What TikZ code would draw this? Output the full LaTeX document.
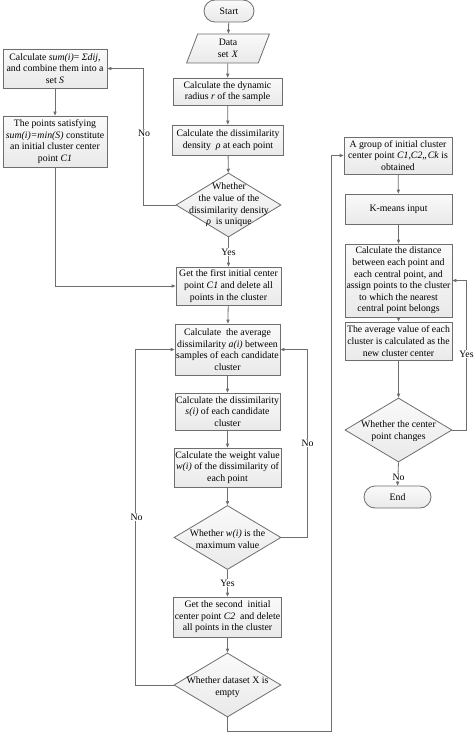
\documentclass[tikz,border=0pt]{standalone}
\usepackage{fontspec}
\setmainfont{Liberation Serif}
\usetikzlibrary{arrows.meta,shapes.geometric,shapes.misc}
\definecolor{ln}{HTML}{6E6E6E}
\tikzset{
  base/.style={draw=ln, line width=0.8pt, top color=gray!4, bottom color=gray!17, align=center, inner sep=1pt,
    font=\fontsize{9.8}{11.6}\selectfont},
  box/.style={base, rectangle, minimum width=#1},
  pill/.style={base, rounded rectangle, minimum height=22pt},
  dec/.style={draw=ln, line width=0.8pt, top color=gray!4, bottom color=gray!17, diamond, inner sep=0pt, minimum width=#1, minimum height=64pt},
  dectext/.style={align=center, inner sep=0pt, font=\fontsize{9.8}{11.6}\selectfont},
  arr/.style={draw=ln, line width=0.8pt, -{Triangle[length=4pt,width=3.2pt]}},
  lab/.style={fill=white, inner sep=1pt, font=\fontsize{9.8}{11.6}\selectfont},
}
\begin{document}
\begin{tikzpicture}[x=1pt,y=-1pt]
\useasboundingbox (0,0) rectangle (474,733);
\fill[white] (0,0) rectangle (474,733);
% main column
\node[pill, minimum width=52pt] (start) at (229,11) {Start};
\node[base, trapezium, trapezium left angle=69, trapezium right angle=111, minimum height=29pt, text width=40pt] (data) at (228,48.5) {Data\\set \textit{X}};
\node[box=109pt, minimum height=27pt] (r1) at (227.5,91.5) {Calculate the dynamic\\radius \textit{r} of the sample};
\node[box=111pt, minimum height=30pt] (r2) at (228,140) {Calculate the dissimilarity\\density \ \textit{ρ} at each point};
\node[dec=105pt] (d1) at (228.5,205) {};
\node[dectext] (d1t) at (229,205) {Whether\\the value of the\\dissimilarity density\\\textit{ρ} \ is unique};
\node[box=104pt, minimum height=39pt] (sum) at (55,68.5) {Calculate \textit{sum(i)}= \textit{Σdij},\\and combine them into a\\set \textit{S}};
\node[box=104pt, minimum height=51pt] (pts) at (55,141.5) {The points satisfying\\\textit{sum(i)=min(S)} constitute\\an initial cluster center\\point \textit{C1}};
\node[box=105pt, minimum height=38pt] (first) at (228.5,286) {Get the first initial center\\point \textit{C1} and delete all\\points in the cluster};
\node[box=105pt, minimum height=51pt] (avg) at (227.5,349.5) {Calculate \ the average\\dissimilarity \textit{a(i)} between\\samples of each candidate\\cluster};
\node[box=105pt, minimum height=37pt] (s) at (227.5,411.5) {Calculate the dissimilarity\\\textit{s(i)} of each candidate\\cluster};
\node[box=107pt, minimum height=39pt] (w) at (227.5,467.5) {Calculate the weight value\\\textit{w(i)} of the dissimilarity of\\each point};
\node[dec=107pt] (d2) at (227.5,537.5) {};
\node[dectext] (d2t) at (227.5,539) {Whether \textit{w(i)} is the\\maximum value};
\node[box=107pt, minimum height=40pt] (second) at (227.5,617) {Get the second \ initial\\center point \textit{C2} \ and delete\\all points in the cluster};
\node[dec=107pt] (d3) at (227.5,685) {};
\node[dectext] (d3t) at (227.5,687) {Whether dataset X is\\empty};
% right column
\node[box=108pt, minimum height=37pt] (grp) at (398,155.5) {A group of initial cluster\\center point \textit{C1,C2,,Ck} is\\obtained};
\node[box=107pt, minimum height=30pt] (km) at (398.5,209) {K-means input};
\node[box=107pt, minimum height=73pt] (dist) at (398.5,280.5) {Calculate the distance\\between each point and\\each central point, and\\assign points to the cluster\\to which the nearest\\central point belongs};
\node[box=107pt, minimum height=38pt] (avgv) at (398.5,341) {The average value of each\\cluster is calculated as the\\new cluster center};
\node[dec=107pt] (d4) at (398.5,430) {};
\node[dectext] (d4t) at (398.5,431) {Whether the center\\point changes};
\node[pill, minimum width=69pt] (end) at (397.5,497) {End};
% connectors
\draw[arr] (start) -- (data);
\draw[arr] (data) -- (r1);
\draw[arr] (r1) -- (r2);
\draw[arr] (r2) -- (d1);
\draw[arr] (d1.south) -- (first.north);
\draw[arr] (d1.west) -- ++(-32,0) |- (sum.east);
\draw[arr] (sum) -- (pts);
\draw[arr] (pts.south) |- (first.west);
\draw[arr] (first) -- (avg);
\draw[arr] (avg) -- (s);
\draw[arr] (s) -- (w);
\draw[arr] (w) -- (d2.north);
\draw[arr] (d2.south) -- (second.north);
\draw[arr] (d2.east) -- ++(26,0) |- (avg.east);
\draw[arr] (second) -- (d3.north);
\draw[arr] (d3.west) -- ++(-38,0) |- (avg.west);
\coordinate (bend) at (331,731);
\draw[arr] (d3.south) |- (bend) |- (grp.west);
\draw[arr] (grp) -- (km);
\draw[arr] (km) -- (dist);
\draw[arr] (dist) -- (avgv);
\draw[arr] (avgv) -- (d4.north);
\draw[arr] (d4.east) -- ++(14,0) |- (dist.east);
\draw[arr] (d4.south) -- (end.north);
% labels
\node[lab] (l1) at (228.5,252) {Yes};
\node[lab] (l2) at (144,133) {No};
\node[lab] (l3) at (307.5,443) {No};
\node[lab] (l4) at (136.5,517) {No};
\node[lab] (l5) at (227.5,583) {Yes};
\node[lab] (l6) at (466.5,354) {Yes};
\node[lab] (l7) at (398.5,477) {No};
\end{tikzpicture}
\end{document}
